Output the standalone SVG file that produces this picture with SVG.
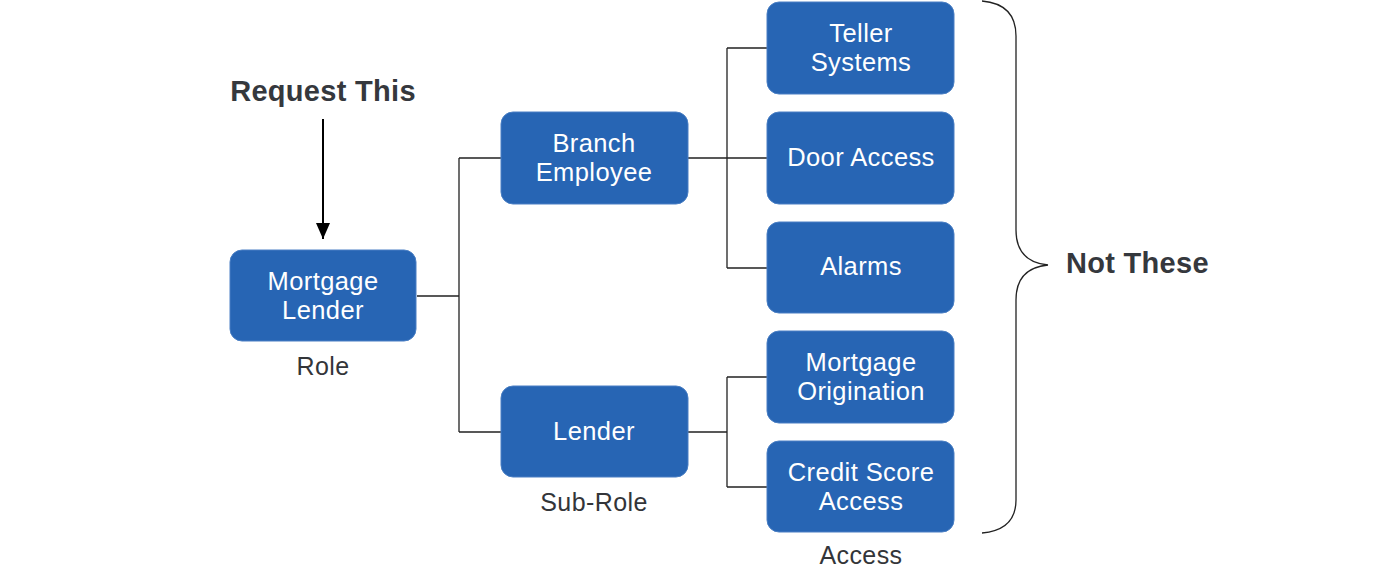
<svg xmlns="http://www.w3.org/2000/svg" width="1375" height="568" viewBox="0 0 1375 568">
<defs>
<style>
.box{fill:#2765b4;stroke:#4a7fc4;stroke-width:1}
.bt{font-family:"Liberation Sans",Arial,sans-serif;font-size:25.5px;letter-spacing:0.4px;fill:#ffffff;text-anchor:middle}
.lbl{font-family:"Liberation Sans",Arial,sans-serif;font-size:25px;letter-spacing:0.4px;fill:#333539;text-anchor:middle}
.hd{font-family:"Liberation Sans",Arial,sans-serif;font-size:29px;letter-spacing:0.3px;font-weight:bold;fill:#35383d}
.ln{fill:none;stroke:#222;stroke-width:1.3}
</style>
<marker id="ah2" viewBox="0 0 16 14" refX="16" refY="7" markerWidth="16" markerHeight="14" markerUnits="userSpaceOnUse" orient="auto">
<path d="M0,0 L16,7 L0,14 z" fill="#000"/>
</marker>
</defs>
<g id="connectors">
<path class="ln" d="M417,296 H459 M459,158 V432 M459,158 H501 M459,432 H501"/>
<path class="ln" d="M688,158 H727 M727,48 V268 M727,48 H767 M727,158 H767 M727,268 H767"/>
<path class="ln" d="M688,432 H727 M727,377 V487 M727,377 H767 M727,487 H767"/>
<path d="M323,119 V239" fill="none" stroke="#000" stroke-width="2" marker-end="url(#ah2)"/>
</g>
<g id="brace">
<path class="ln" d="M982,1 Q1016,4 1016,36 V230 Q1016,262 1048,265 Q1016,268 1016,300 V500 Q1016,530 982,533"/>
</g>
<g id="request-this"><text class="hd" x="323" y="101" text-anchor="middle">Request This</text></g>
<g id="not-these"><text class="hd" x="1066" y="273">Not These</text></g>
<g id="mortgage-lender">
<rect class="box" x="230" y="250" width="186" height="91" rx="12"/>
<text class="bt" x="323" y="290">Mortgage</text>
<text class="bt" x="323" y="319">Lender</text>
</g>
<g id="role-label"><text class="lbl" x="323" y="375">Role</text></g>
<g id="branch-employee">
<rect class="box" x="501" y="112" width="187" height="92" rx="12"/>
<text class="bt" x="594" y="152">Branch</text>
<text class="bt" x="594" y="181">Employee</text>
</g>
<g id="lender">
<rect class="box" x="501" y="386" width="187" height="91" rx="12"/>
<text class="bt" x="594" y="440">Lender</text>
</g>
<g id="sub-role-label"><text class="lbl" x="594" y="511">Sub-Role</text></g>
<g id="teller-systems">
<rect class="box" x="767" y="2" width="187" height="92" rx="12"/>
<text class="bt" x="861" y="42">Teller</text>
<text class="bt" x="861" y="71">Systems</text>
</g>
<g id="door-access">
<rect class="box" x="767" y="112" width="187" height="92" rx="12"/>
<text class="bt" x="861" y="166">Door Access</text>
</g>
<g id="alarms">
<rect class="box" x="767" y="222" width="187" height="91" rx="12"/>
<text class="bt" x="861" y="275">Alarms</text>
</g>
<g id="mortgage-origination">
<rect class="box" x="767" y="331" width="187" height="92" rx="12"/>
<text class="bt" x="861" y="371">Mortgage</text>
<text class="bt" x="861" y="400">Origination</text>
</g>
<g id="credit-score-access">
<rect class="box" x="767" y="441" width="187" height="91" rx="12"/>
<text class="bt" x="861" y="481">Credit Score</text>
<text class="bt" x="861" y="510">Access</text>
</g>
<g id="access-label"><text class="lbl" x="861" y="564">Access</text></g>
</svg>
